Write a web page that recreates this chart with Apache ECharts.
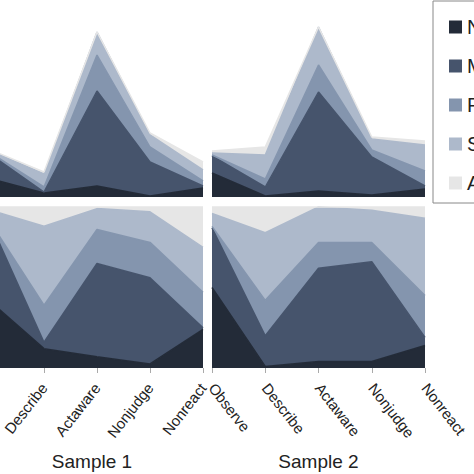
<!DOCTYPE html>
<html>
<head>
<meta charset="utf-8">
<script src="https://cdn.jsdelivr.net/npm/echarts@6/dist/echarts.min.js"></script>
<style>
  html, body { margin: 0; padding: 0; background: #fff; }
  #main { width: 474px; height: 474px; }
</style>
</head>
<body>
<div id="main"></div>
<script>
// facets on the x axis
var facets = ['Observe', 'Describe', 'Actaware', 'Nonjudge', 'Nonreact'];
// profile names (legend is cut off at the right edge of the figure)
var profiles = ['N', 'M', 'F', 'S', 'A'];
var colors = ['#232b38', '#46546c', '#8495ae', '#adb9cb', '#e6e6e6'];

// top row: counts, one array per profile
var s1Counts = [
  [18, 4, 11, 1, 9],
  [24, 1, 95, 34, 2],
  [2, 5, 36, 15, 5],
  [2, 13, 23, 12, 11],
  [1, 2, 0, 2, 8]
];
var s2Counts = [
  [24, 1, 6, 2, 8],
  [17, 9, 99, 38, 3],
  [1, 8, 27, 7, 15],
  [2, 24, 38, 11, 26],
  [2, 8, 0, 2, 4]
];
// bottom row: percentages
var s1Pct = [
  [41, 12, 7, 2.5, 24],
  [48, 4, 58, 53.5, 1],
  [1, 23, 21, 22, 22],
  [8, 49, 13, 19, 28],
  [2, 12, 1, 3, 25]
];
var s2Pct = [
  [50, 1, 4, 4, 14],
  [37, 19, 58, 62, 5],
  [1, 22, 16, 12, 26],
  [8, 42, 22, 20, 48],
  [4, 16, 0, 2, 7]
];

// svg renderer: canvas left a light seam between thin stacked areas
var myChart = echarts.init(document.getElementById('main'), null, { renderer: 'svg' });
var font = 'Liberation Sans, Arial, sans-serif';

var grids = [
  { left: -9, width: 212, top: 17, height: 180, outerBoundsMode: 'none', containLabel: false },
  { left: 212, width: 213, top: 17, height: 180, outerBoundsMode: 'none', containLabel: false },
  { left: -9, width: 212, top: 207, height: 161, outerBoundsMode: 'none', containLabel: false },
  { left: 212, width: 213, top: 207, height: 161, outerBoundsMode: 'none', containLabel: false }
];

function xAx(i) {
  var bottom = i >= 2;
  return {
    gridIndex: i,
    type: 'category',
    boundaryGap: false,
    data: facets,
    axisLine: { show: false },
    axisTick: { show: bottom, alignWithLabel: true, length: 5, lineStyle: { color: '#aaa' } },
    axisLabel: {
      show: bottom,
      interval: 0,
      hideOverlap: false,
      rotate: i == 2 ? 52 : -52,
      margin: 17,
      color: '#222',
      fontFamily: font,
      fontSize: 15
    },
    name: bottom ? (i == 2 ? 'Sample 1' : 'Sample 2') : '',
    nameLocation: 'middle',
    nameGap: 84,
    nameTextStyle: {
      color: '#222', fontFamily: font, fontSize: 19,
      padding: i == 2 ? [0, 10, 0, 0] : 0
    }
  };
}
function yAx(i) {
  return {
    gridIndex: i,
    type: 'value',
    min: 0,
    max: i >= 2 ? 100 : 180,
    show: false,
    splitLine: { show: false }
  };
}

var series = [];
var sets = [s1Counts, s2Counts, s1Pct, s2Pct];
sets.forEach(function (set, g) {
  set.forEach(function (vals, k) {
    series.push({
      name: profiles[k],
      type: 'line',
      xAxisIndex: g,
      yAxisIndex: g,
      stack: 'g' + g,
      symbol: 'none',
      clip: false,
      lineStyle: { width: 1.5, color: colors[k] },
      itemStyle: { color: colors[k] },
      areaStyle: { color: colors[k], opacity: 1 },
      data: vals
    });
  });
});

var option = {
  animation: false,
  backgroundColor: '#fff',
  grid: grids,
  xAxis: [xAx(0), xAx(1), xAx(2), xAx(3)],
  yAxis: [yAx(0), yAx(1), yAx(2), yAx(3)],
  legend: {
    orient: 'vertical',
    left: 433,
    top: 1,
    padding: [16, 40, 10, 16],
    itemGap: 19,
    itemWidth: 13,
    itemHeight: 13,
    icon: 'rect',
    borderColor: '#888',
    borderWidth: 1,
    data: profiles,
    textStyle: { color: '#222', fontFamily: font, fontSize: 20 }
  },
  series: series
};

myChart.setOption(option, true);
</script>
</body>
</html>
